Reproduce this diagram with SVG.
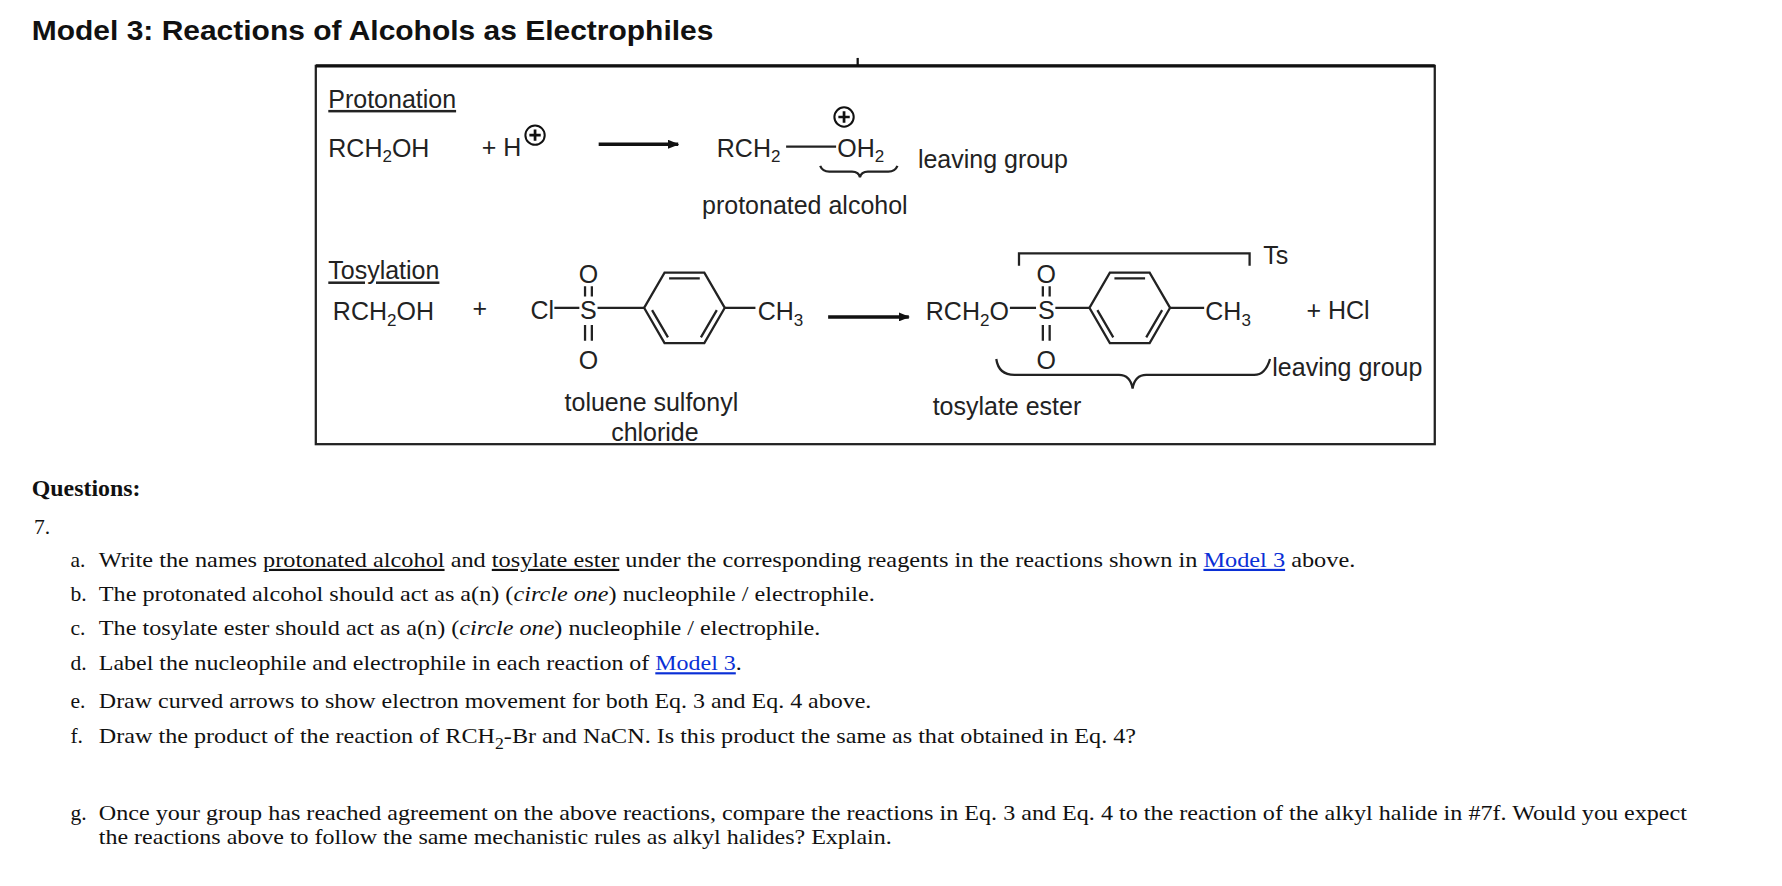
<svg xmlns="http://www.w3.org/2000/svg" width="1782" height="886" viewBox="0 0 1782 886">
<style>
.t{font-family:"Liberation Sans",Arial,sans-serif;font-size:22px;fill:#222}
.c{text-anchor:middle}
.s{font-size:15px}
.q{font-family:"Liberation Serif","DejaVu Serif",serif;font-size:19px;fill:#111}
.ln{stroke:#222;stroke-width:2;fill:none}
.lk{fill:#0a2fd6;text-decoration:underline}
</style>
<defs>
<marker id="ah" markerWidth="10" markerHeight="8" refX="9" refY="4" orient="auto" markerUnits="userSpaceOnUse"><path d="M0,0L10,4L0,8Z" fill="#111"/></marker>
<g id="ring"><path d="M0,0L18,-31L53,-31L71,0L53,31L18,31Z" class="ln"/><path d="M22,-26H49M7,2L21,26M64,2L50,26" class="ln" stroke-width="1.5"/></g>
<g id="cplus"><circle r="8.5" fill="none" stroke="#111" stroke-width="1.8"/><path d="M-5,0H5M0,-5V5" stroke="#111" stroke-width="2.4"/></g>
</defs>
<rect width="1782" height="886" fill="#fff"/>
<g transform="scale(1.136)">
<text x="28" y="35" font-family="Liberation Sans,Arial,sans-serif" font-weight="bold" font-size="24" fill="#111" textLength="600" lengthAdjust="spacingAndGlyphs">Model 3: Reactions of Alcohols as Electrophiles</text>
<g id="box">
<rect x="278" y="58" width="985" height="333" fill="none" stroke="#222" stroke-width="2"/>
<line x1="278" y1="58" x2="1263" y2="58" stroke="#111" stroke-width="3"/>
<line x1="755" y1="51" x2="755" y2="58" stroke="#111" stroke-width="2"/>
</g>
<g id="protonation">
<text class="t" x="289" y="95" text-decoration="underline">Protonation</text>
<text class="t" x="289" y="138">RCH<tspan class="s" dy="5">2</tspan><tspan dy="-5">OH</tspan></text>
<text class="t" x="424" y="137">+ H</text>
<use href="#cplus" x="471" y="119"/>
<text class="t" x="631" y="138">RCH<tspan class="s" dy="5">2</tspan></text>
<line x1="692" y1="129" x2="736" y2="129" class="ln"/>
<text class="t" x="737" y="138">OH<tspan class="s" dy="5">2</tspan></text>
<use href="#cplus" x="743" y="103"/>
<path d="M722,146q2,5 8,5H750q6,0 7,5q1,-5 7,-5H782q6,0 8,-5" class="ln" stroke-width="1.3"/>
<text class="t" x="808" y="148">leaving group</text>
<text class="t" x="618" y="188">protonated alcohol</text>
</g>
<g id="tosylation">
<text class="t" x="289" y="246" text-decoration="underline">Tosylation</text>
<text class="t" x="293" y="282">RCH<tspan class="s" dy="5">2</tspan><tspan dy="-5">OH</tspan></text>
<text class="t" x="416" y="279" font-size="16">+</text>
<text class="t" x="467" y="281">Cl</text>
<line x1="488" y1="271" x2="510" y2="271" class="ln"/>
<text class="t c" x="518" y="281">S</text>
<text class="t c" x="518" y="249">O</text>
<text class="t c" x="518" y="325">O</text>
<path d="M515,252V261M521,252V261M515,286V300M521,286V300" class="ln" stroke-width="1.5"/>
<line x1="526" y1="271" x2="567" y2="271" class="ln"/>
<use href="#ring" x="567" y="271"/>
<line x1="638" y1="271" x2="665" y2="271" class="ln"/>
<text class="t" x="667" y="282">CH<tspan class="s" dy="5">3</tspan></text>
<text class="t" x="497" y="362">toluene sulfonyl</text>
<text class="t" x="538" y="388">chloride</text>
</g>
<g id="product">
<text class="t" x="815" y="282">RCH<tspan class="s" dy="5">2</tspan><tspan dy="-5">O</tspan></text>
<line x1="889" y1="271" x2="912" y2="271" class="ln"/>
<text class="t c" x="921" y="281">S</text>
<text class="t c" x="921" y="249">O</text>
<text class="t c" x="921" y="325">O</text>
<path d="M918,252V261M924,252V261M918,286V300M924,286V300" class="ln" stroke-width="1.5"/>
<line x1="929" y1="271" x2="959" y2="271" class="ln"/>
<use href="#ring" x="959" y="271"/>
<line x1="1030" y1="271" x2="1060" y2="271" class="ln"/>
<text class="t" x="1061" y="282">CH<tspan class="s" dy="5">3</tspan></text>
<path d="M897,234V223H1100V234" class="ln"/>
<text class="t" x="1112" y="232">Ts</text>
<text class="t" x="1150" y="281">+ HCl</text>
<path d="M877,316q2,14 16,14H985q10,0 12,12q2,-12 12,-12H1104q10,0 14,-14" class="ln" stroke-width="1.5"/>
<text class="t" x="1120" y="331">leaving group</text>
<text class="t" x="821" y="365">tosylate ester</text>
</g>
<g id="connectors">
<line x1="527" y1="127" x2="597" y2="127" stroke="#111" stroke-width="3" marker-end="url(#ah)"/>
<line x1="729" y1="279" x2="800" y2="279" stroke="#111" stroke-width="3" marker-end="url(#ah)"/>
</g>
<g id="questions">
<text x="28" y="437" font-family="Liberation Serif,serif" font-weight="bold" font-size="21" fill="#111">Questions:</text>
<text class="q" x="30" y="470">7.</text>
<text class="q" x="62" y="499">a.</text>
<text class="q" x="87" y="499" textLength="1106" lengthAdjust="spacingAndGlyphs">Write the names <tspan text-decoration="underline">protonated alcohol</tspan> and <tspan text-decoration="underline">tosylate ester</tspan> under the corresponding reagents in the reactions shown in <tspan class="lk">Model 3</tspan> above.</text>
<text class="q" x="62" y="529">b.</text>
<text class="q" x="87" y="529" textLength="683" lengthAdjust="spacingAndGlyphs">The protonated alcohol should act as a(n) (<tspan font-style="italic">circle one</tspan>) nucleophile / electrophile.</text>
<text class="q" x="62" y="559">c.</text>
<text class="q" x="87" y="559" textLength="635" lengthAdjust="spacingAndGlyphs">The tosylate ester should act as a(n) (<tspan font-style="italic">circle one</tspan>) nucleophile / electrophile.</text>
<text class="q" x="62" y="590">d.</text>
<text class="q" x="87" y="590" textLength="566" lengthAdjust="spacingAndGlyphs">Label the nucleophile and electrophile in each reaction of <tspan class="lk">Model 3</tspan>.</text>
<text class="q" x="62" y="623">e.</text>
<text class="q" x="87" y="623" textLength="680" lengthAdjust="spacingAndGlyphs">Draw curved arrows to show electron movement for both Eq. 3 and Eq. 4 above.</text>
<text class="q" x="62" y="654">f.</text>
<text class="q" x="87" y="654" textLength="913" lengthAdjust="spacingAndGlyphs">Draw the product of the reaction of RCH<tspan font-size="14" dy="5">2</tspan><tspan dy="-5">-Br and NaCN. Is this product the same as that obtained in Eq. 4?</tspan></text>
<text class="q" x="62" y="722">g.</text>
<text class="q" x="87" y="722" textLength="1398" lengthAdjust="spacingAndGlyphs">Once your group has reached agreement on the above reactions, compare the reactions in Eq. 3 and Eq. 4 to the reaction of the alkyl halide in #7f. Would you expect</text>
<text class="q" x="87" y="743" textLength="698" lengthAdjust="spacingAndGlyphs">the reactions above to follow the same mechanistic rules as alkyl halides? Explain.</text>
</g>
</g>
</svg>
